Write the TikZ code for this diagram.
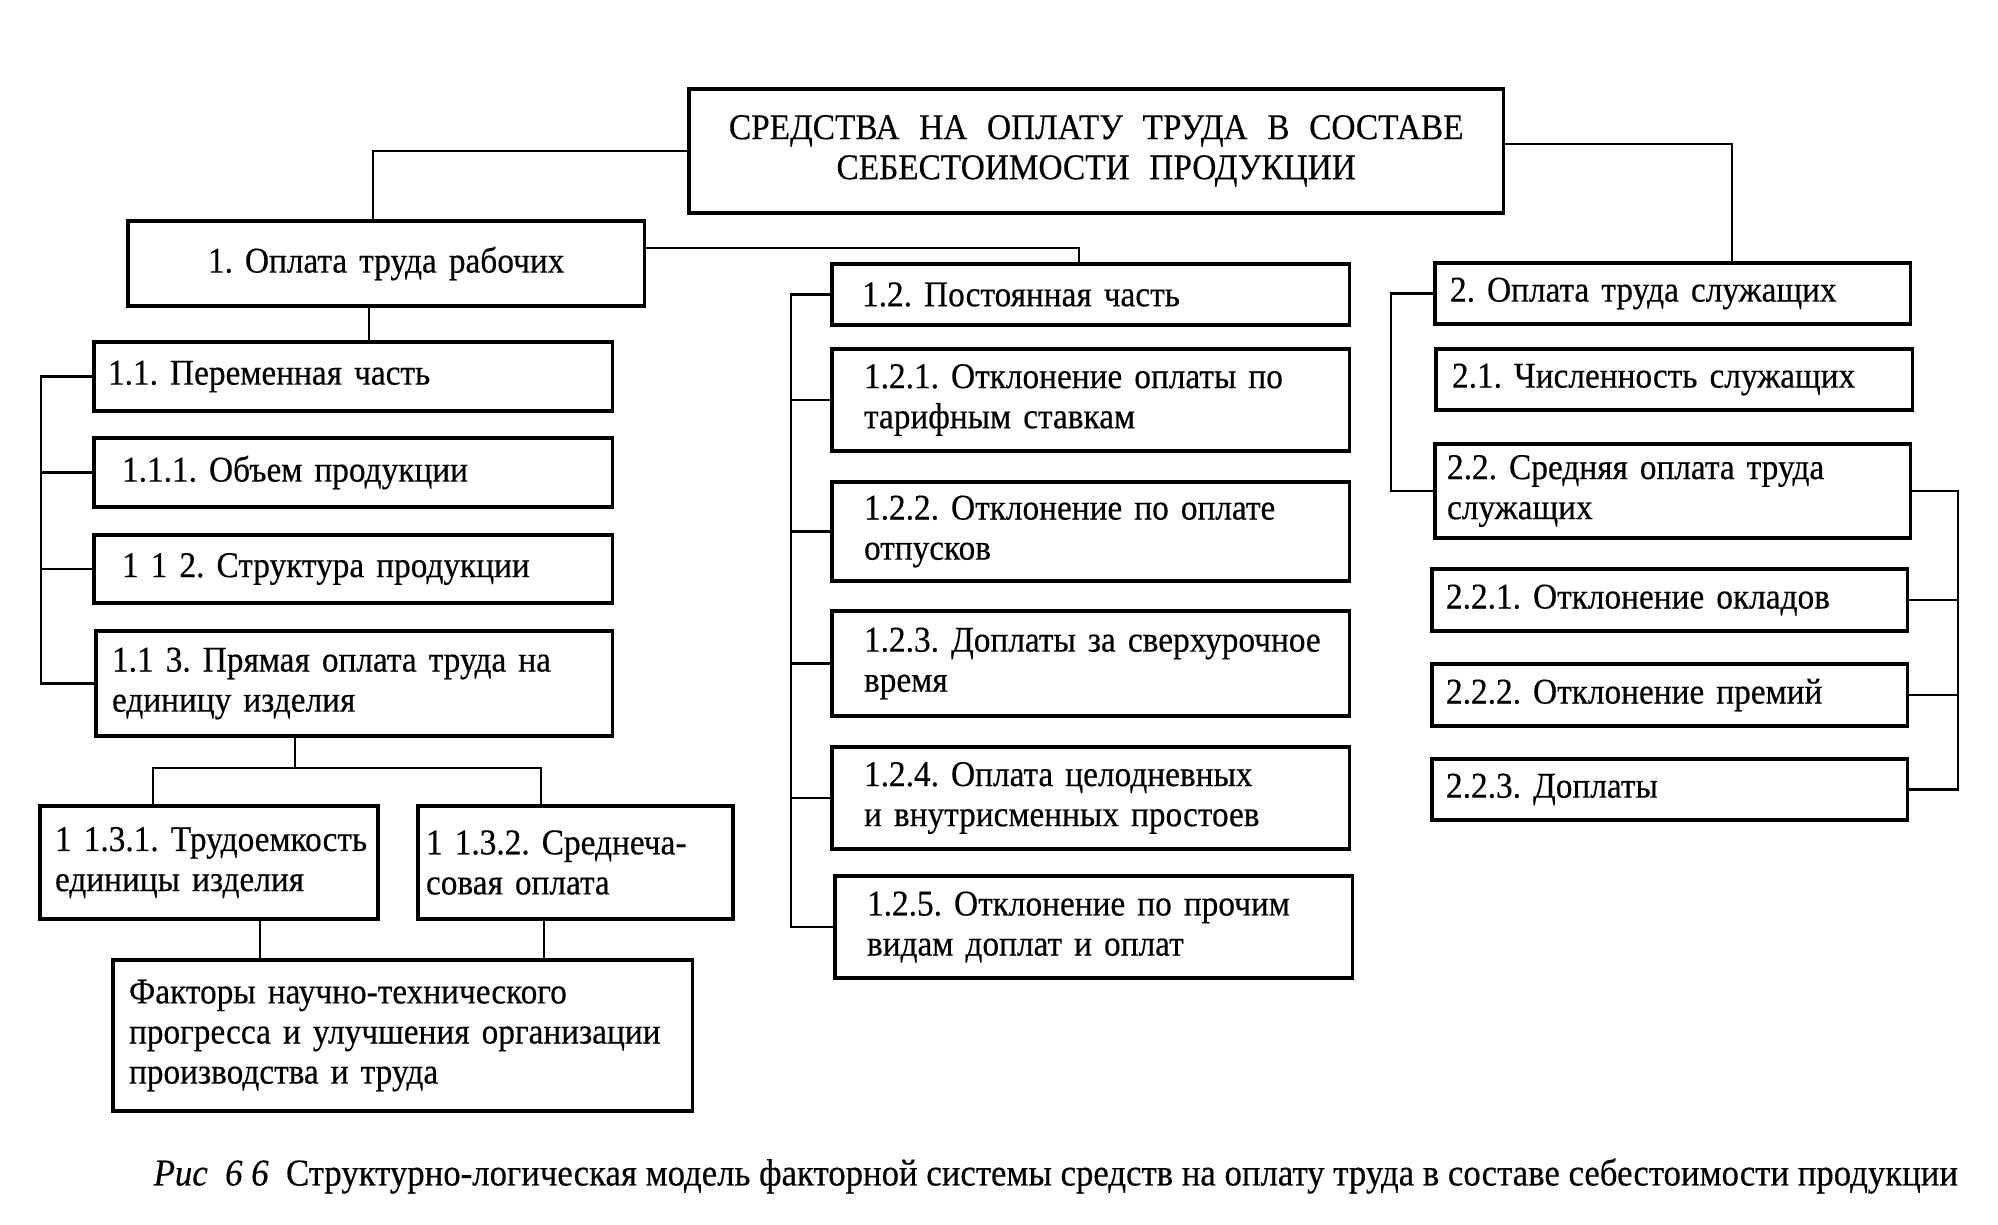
\documentclass[tikz,border=0pt]{standalone}
\usepackage{fontspec}
\setmainfont{Liberation Serif}[FakeStretch=0.92, FakeBold=0.4]
\hyphenpenalty=10000
\exhyphenpenalty=10000
\frenchspacing

\begin{document}
\begin{tikzpicture}[x=0.01cm, y=-0.01cm,
  box/.style={draw, line width=1pt, rectangle, anchor=north west, outer sep=0pt,
    inner ysep=0pt, align=left, font=\fontsize{10.3pt}{11.4pt}\selectfont},
  link/.style={line width=0.7pt}]
\useasboundingbox (0,0) rectangle (1998,1225);

\node[box, minimum width=8.14cm, minimum height=1.24cm, text width=7.74cm, inner xsep=0.2cm, align=center] (top) at (689,89)
  {\spaceskip=5.6pt\relax СРЕДСТВА НА ОПЛАТУ ТРУДА В СОСТАВЕ\\\spaceskip=5.6pt\relax СЕБЕСТОИМОСТИ ПРОДУКЦИИ};

% 1. workers
\node[box, minimum width=5.16cm, minimum height=0.85cm, text width=4.9cm, inner xsep=0.13cm, align=center] (n1) at (128,221) {1. Оплата труда рабочих};
\node[box, minimum width=5.18cm, minimum height=0.69cm, text width=4.90cm, inner xsep=0.14cm] (n11) at (94,342) {1.1. Переменная часть};
\node[box, minimum width=5.18cm, minimum height=0.69cm, text width=4.62cm, inner xsep=0.28cm] (n111) at (94,438) {1.1.1. Объем продукции};
\node[box, minimum width=5.18cm, minimum height=0.68cm, text width=4.62cm, inner xsep=0.28cm] (n112) at (94,535) {1 1 2. Структура продукции};
\node[box, minimum width=5.16cm, minimum height=1.05cm, text width=4.84cm, inner xsep=0.16cm] (n113) at (96,631) {\mbox{1.1 3. Прямая оплата труда на}\\единицу изделия};
\node[box, minimum width=3.38cm, minimum height=1.13cm, text width=3.08cm, inner xsep=0.15cm] (n1131) at (40,806) {\mbox{1 1.3.1. Трудоемкость}\\единицы изделия};
\node[box, minimum width=3.15cm, minimum height=1.13cm, text width=2.99cm, inner xsep=0.08cm] (n1132) at (418,806) {\mbox{1 1.3.2. Среднеча-}\\совая оплата};
\node[box, minimum width=5.79cm, minimum height=1.51cm, text width=5.47cm, inner xsep=0.16cm] (nfac) at (113,960) {Факторы научно-технического\\\mbox{прогресса и улучшения организации}\\производства и труда};

\node[box, minimum width=5.17cm, minimum height=0.61cm, text width=4.57cm, inner xsep=0.30cm] (n12) at (832,264) {1.2. Постоянная часть};
\node[box, minimum width=5.17cm, minimum height=1.02cm, text width=4.53cm, inner xsep=0.32cm] (n121) at (832,349) {\mbox{1.2.1. Отклонение оплаты по}\\тарифным ставкам};
\node[box, minimum width=5.17cm, minimum height=0.99cm, text width=4.53cm, inner xsep=0.32cm] (n122) at (832,482) {\mbox{1.2.2. Отклонение по оплате}\\отпусков};
\node[box, minimum width=5.17cm, minimum height=1.05cm, text width=4.53cm, inner xsep=0.32cm] (n123) at (832,611) {\mbox{1.2.3. Доплаты за сверхурочное}\\время};
\node[box, minimum width=5.17cm, minimum height=1.02cm, text width=4.53cm, inner xsep=0.32cm] (n124) at (832,747) {1.2.4. Оплата целодневных\\\mbox{и внутрисменных простоев}};
\node[box, minimum width=5.17cm, minimum height=1.02cm, text width=4.53cm, inner xsep=0.32cm] (n125) at (835,876) {\mbox{1.2.5. Отклонение по прочим}\\видам доплат и оплат};

% 2. employees
\node[box, minimum width=4.75cm, minimum height=0.61cm, text width=4.45cm, inner xsep=0.15cm] (n2) at (1435,263) {2. Оплата труда служащих};
\node[box, minimum width=4.76cm, minimum height=0.61cm, text width=4.44cm, inner xsep=0.16cm] (n21) at (1436,349) {2.1. Численность служащих};
\node[box, minimum width=4.75cm, minimum height=0.94cm, text width=4.51cm, inner xsep=0.12cm] (n22) at (1435,444) {2.2. Средняя оплата труда\\служащих};
\node[box, minimum width=4.75cm, minimum height=0.62cm, text width=4.47cm, inner xsep=0.14cm] (n221) at (1432,569) {2.2.1. Отклонение окладов};
\node[box, minimum width=4.75cm, minimum height=0.62cm, text width=4.47cm, inner xsep=0.14cm] (n222) at (1432,664) {2.2.2. Отклонение премий};
\node[box, minimum width=4.75cm, minimum height=0.61cm, text width=4.47cm, inner xsep=0.14cm] (n223) at (1432,759) {2.2.3. Доплаты};

\node[anchor=west, inner sep=0pt, font=\fontsize{10.75pt}{11.4pt}\selectfont] (cap) at (153,1176) {\textit{Рис\ \ 6 6}\ \ Структурно-логическая модель факторной системы средств на оплату труда в составе себестоимости продукции};

\draw[link] (top.west) -| (n1.north -| 373,0);
\draw[link] (top.east |- 0,144) -| (n2.north -| 1732,0);
\draw[link] (n1.east |- 0,248) -| (n12.north -| 1079,0);
\draw[link] (n1.south -| 369,0) -- (n11.north -| 369,0);

\draw[link] (n11.west) -| (n113.west -| 41,0) -- (n113.west);
\draw[link] (n111.west) -- (n111.west -| 41,0);
\draw[link] (n112.west) -- (n112.west -| 41,0);

\coordinate (split) at (295,768);
\draw[link] (n113.south -| split) -- (split);
\draw[link] (n1131.north -| 153,0) |- (split) -| (n1132.north -| 541,0);
\draw[link] (n1131.south -| 260,0) -- (nfac.north -| 260,0);
\draw[link] (n1132.south -| 544,0) -- (nfac.north -| 544,0);

\draw[link] (n12.west) -| (n125.west -| 791,0) -- (n125.west);
\foreach \n in {n121,n122,n123,n124}
  \draw[link] (\n.west) -- (\n.west -| 791,0);

\draw[link] (n2.west) -| (n22.west -| 1391,0) -- (n22.west);
\draw[link] (n22.east) -| (n223.east -| 1958,0) -- (n223.east);
\draw[link] (n221.east) -- (n221.east -| 1958,0);
\draw[link] (n222.east) -- (n222.east -| 1958,0);
\end{tikzpicture}
\end{document}
